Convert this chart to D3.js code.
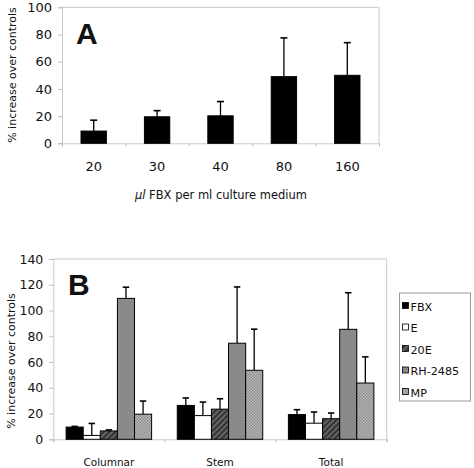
<!DOCTYPE html>
<html>
<head>
<meta charset="utf-8">
<script src="https://cdn.jsdelivr.net/npm/d3@7"></script>
<style>
  html, body { margin: 0; padding: 0; background: #fff; }
  svg { display: block; }
  text { font-family: "DejaVu Sans", sans-serif; fill: #111; }
</style>
</head>
<body>
<svg id="chart" width="474" height="468"></svg>
<script>
// ---- Panel A data ----
const doseCategories = ["20", "30", "40", "80", "160"];
const doseMeans = [9, 19.5, 20.2, 49, 50];
const doseErrors = [8, 4.5, 10.5, 28.5, 24];
const aTicks = [0, 20, 40, 60, 80, 100];

// ---- Panel B data ----
const tissueCategories = ["Columnar", "Stem", "Total"];
const treatments = ["FBX", "E", "20E", "RH-2485", "MP"];
const fbxMeans = [9.5, 26.3, 19.2];
const fbxErrors = [0.5, 5.8, 3.8];
const eMeans = [3, 18.4, 12.5];
const eErrors = [9.3, 10.5, 8.7];
const e20Means = [6.5, 23.4, 16];
const e20Errors = [0.8, 8.1, 4.4];
const rhMeans = [109.4, 74.6, 85.4];
const rhErrors = [8.7, 43.7, 28.4];
const mpMeans = [19.5, 53.6, 43.7];
const mpErrors = [10.2, 31.9, 20.3];
const bTicks = [0, 20, 40, 60, 80, 100, 120, 140];

const svg = d3.select("#chart");
const defs = svg.append("defs");

const hatch = defs.append("pattern").attr("id", "hatch").attr("patternUnits", "userSpaceOnUse")
  .attr("width", 4).attr("height", 4).attr("patternTransform", "rotate(45)");
hatch.append("rect").attr("width", 4).attr("height", 4).attr("fill", "#353535");
hatch.append("rect").attr("width", 1.6).attr("height", 4).attr("fill", "#6e6e6e");

const checker = defs.append("pattern").attr("id", "checker").attr("patternUnits", "userSpaceOnUse")
  .attr("width", 3).attr("height", 3);
checker.append("rect").attr("width", 3).attr("height", 3).attr("fill", "#b8b8b8");
checker.append("rect").attr("width", 1.5).attr("height", 1.5).attr("fill", "#8e8e8e");
checker.append("rect").attr("x", 1.5).attr("y", 1.5).attr("width", 1.5).attr("height", 1.5).attr("fill", "#8e8e8e");

const fills = ["#000000", "#ffffff", "url(#hatch)", "#8a8a8a", "url(#checker)"];
const frameColor = "#c8c8c8";

function drawFrame(g, x0, x1, yTop, yBot) {
  g.append("line").attr("x1", x0).attr("x2", x1).attr("y1", yTop).attr("y2", yTop).attr("stroke", frameColor);
  g.append("line").attr("x1", x1).attr("x2", x1).attr("y1", yTop).attr("y2", yBot).attr("stroke", frameColor);
}

function styleAxis(ax) {
  ax.select(".domain").attr("stroke", frameColor);
  ax.selectAll(".tick line").attr("stroke", "#bbb");
}

// ================= Panel A =================
{
  const x0 = 62, x1 = 379, yTop = 7.3, yBot = 143.3;
  const x = d3.scaleBand().domain(doseCategories).range([x0, x1]).paddingInner(0.6).paddingOuter(0.3);
  const y = d3.scaleLinear().domain([0, 100]).range([yBot, yTop]);
  const g = svg.append("g");
  drawFrame(g, x0, x1, yTop, yBot);

  const ya = g.append("g").attr("transform", `translate(${x0},0)`)
    .call(d3.axisLeft(y).tickValues(aTicks).tickSize(4).tickPadding(6));
  styleAxis(ya);
  ya.selectAll("text").attr("font-size", 13).style("font-family", "DejaVu Sans, sans-serif").attr("fill", "#111");

  const xb = d3.scaleLinear().domain([0, doseCategories.length]).range([x0, x1]);
  const xa = g.append("g").attr("transform", `translate(0,${yBot})`)
    .call(d3.axisBottom(xb).tickValues(d3.range(doseCategories.length + 1)).tickSize(3).tickFormat(""));
  styleAxis(xa);
  g.selectAll(".catA").data(doseCategories).join("text")
    .attr("x", d => x(d) + x.bandwidth() / 2).attr("y", 171)
    .attr("text-anchor", "middle").attr("font-size", 13).text(d => d);

  g.selectAll(".errA").data(doseCategories).join("line")
    .attr("x1", d => x(d) + x.bandwidth() / 2).attr("x2", d => x(d) + x.bandwidth() / 2)
    .attr("y1", (d, i) => y(doseMeans[i])).attr("y2", (d, i) => y(doseMeans[i] + doseErrors[i]))
    .attr("stroke", "#000").attr("stroke-width", 1.3);
  g.selectAll(".capA").data(doseCategories).join("line")
    .attr("x1", d => x(d) + x.bandwidth() / 2 - 3.5).attr("x2", d => x(d) + x.bandwidth() / 2 + 3.5)
    .attr("y1", (d, i) => y(doseMeans[i] + doseErrors[i])).attr("y2", (d, i) => y(doseMeans[i] + doseErrors[i]))
    .attr("stroke", "#000").attr("stroke-width", 1.6);
  g.selectAll(".barA").data(doseCategories).join("rect")
    .attr("x", d => x(d)).attr("width", x.bandwidth())
    .attr("y", (d, i) => y(doseMeans[i])).attr("height", (d, i) => yBot - y(doseMeans[i]))
    .attr("fill", "#000").attr("stroke", "#000");

  g.append("text").attr("x", 76).attr("y", 44).attr("font-size", 30).attr("font-weight", "bold")
    .style("font-family", "Liberation Sans, Arial, sans-serif").text("A");

  const xt = g.append("text").attr("x", 221).attr("y", 199).attr("text-anchor", "middle").attr("font-size", 11.5);
  xt.append("tspan").attr("font-style", "italic").text("μl");
  xt.append("tspan").text(" FBX per ml culture medium");

  g.append("text").attr("transform", `translate(16,75) rotate(-90)`).attr("text-anchor", "middle")
    .attr("font-size", 11).text("% increase over controls");
}

// ================= Panel B =================
{
  const x0 = 53.3, x1 = 386.7, yTop = 259, yBot = 439.3;
  const seriesMeans = [fbxMeans, eMeans, e20Means, rhMeans, mpMeans];
  const seriesErrors = [fbxErrors, eErrors, e20Errors, rhErrors, mpErrors];
  const x = d3.scaleBand().domain(tissueCategories).range([x0, x1]);
  const bw = x.bandwidth() / 6.5;
  const xi = d3.scaleBand().domain(treatments).range([0, bw * 5]);
  const y = d3.scaleLinear().domain([0, 140]).range([yBot, yTop]);
  const g = svg.append("g");
  drawFrame(g, x0, x1, yTop, yBot);

  const ya = g.append("g").attr("transform", `translate(${x0},0)`)
    .call(d3.axisLeft(y).tickValues(bTicks).tickSize(4).tickPadding(6));
  styleAxis(ya);
  ya.selectAll("text").attr("font-size", 12.5).style("font-family", "DejaVu Sans, sans-serif").attr("fill", "#111");

  const xb = d3.scaleLinear().domain([0, tissueCategories.length]).range([x0, x1]);
  const xa = g.append("g").attr("transform", `translate(0,${yBot})`)
    .call(d3.axisBottom(xb).tickValues(d3.range(tissueCategories.length + 1)).tickSize(3).tickFormat(""));
  styleAxis(xa);
  g.selectAll(".catB").data(tissueCategories).join("text")
    .attr("x", d => x(d) + x.bandwidth() / 2).attr("y", 466)
    .attr("text-anchor", "middle").attr("font-size", 10.5).text(d => d);

  const flat = [];
  tissueCategories.forEach((c, ci) => treatments.forEach((t, ti) => {
    flat.push({ c, t, ti, m: seriesMeans[ti][ci], e: seriesErrors[ti][ci] });
  }));
  const cx = d => x(d.c) + bw * 0.75 + xi(d.t) + xi.bandwidth() / 2;

  g.selectAll(".errB").data(flat).join("line")
    .attr("x1", cx).attr("x2", cx)
    .attr("y1", d => y(d.m)).attr("y2", d => y(d.m + d.e))
    .attr("stroke", "#000").attr("stroke-width", 1.3);
  g.selectAll(".capB").data(flat).join("line")
    .attr("x1", d => cx(d) - 3.2).attr("x2", d => cx(d) + 3.2)
    .attr("y1", d => y(d.m + d.e)).attr("y2", d => y(d.m + d.e))
    .attr("stroke", "#000").attr("stroke-width", 1.6);
  g.selectAll(".barB").data(flat).join("rect")
    .attr("x", d => x(d.c) + bw * 0.75 + xi(d.t)).attr("width", xi.bandwidth())
    .attr("y", d => y(d.m)).attr("height", d => yBot - y(d.m))
    .attr("fill", d => fills[d.ti]).attr("stroke", "#000").attr("stroke-width", 1);

  g.append("text").attr("x", 68).attr("y", 295).attr("font-size", 30).attr("font-weight", "bold")
    .style("font-family", "Liberation Sans, Arial, sans-serif").text("B");

  g.append("text").attr("transform", `translate(15,361) rotate(-90)`).attr("text-anchor", "middle")
    .attr("font-size", 11).text("% increase over controls");

  const lg = g.append("g");
  lg.append("rect").attr("x", 399.5).attr("y", 293).attr("width", 71).attr("height", 108)
    .attr("fill", "#fff").attr("stroke", "#9a9a9a");
  const ly = d3.scalePoint().domain(treatments).range([306, 392]);
  lg.selectAll(".sw").data(treatments).join("rect")
    .attr("x", 402.5).attr("y", d => ly(d) - 3.5).attr("width", 6).attr("height", 6)
    .attr("fill", (d, i) => fills[i]).attr("stroke", "#000").attr("stroke-width", 0.8);
  lg.selectAll(".lt").data(treatments).join("text")
    .attr("x", 410.5).attr("y", d => ly(d) + 4.5).attr("font-size", 11.2).text(d => d);
}
</script>
</body>
</html>
